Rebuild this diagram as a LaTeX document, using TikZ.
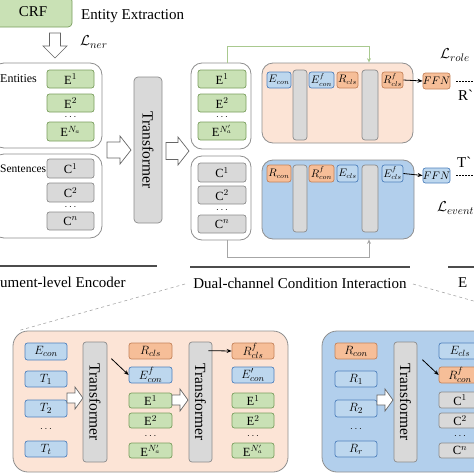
\documentclass[tikz,border=0pt]{standalone}
\usepackage{fontspec}
\setmainfont{Liberation Serif}
\usetikzlibrary{arrows.meta,calc}
\definecolor{grnF}{HTML}{C9E1B5}
\definecolor{grnD}{HTML}{7A9E5E}
\definecolor{gryF}{HTML}{D9D9D9}
\definecolor{gryD}{HTML}{8C8C8C}
\definecolor{bluF}{HTML}{BDD7EE}
\definecolor{bluD}{HTML}{4F81BD}
\definecolor{orgF}{HTML}{F6BE98}
\definecolor{orgD}{HTML}{C5835A}
\definecolor{orgBg}{HTML}{FCE4D6}
\definecolor{bluBg}{HTML}{B2CFEC}
\definecolor{panD}{HTML}{8F8F8F}
\definecolor{gline}{HTML}{A9C98F}
\newcommand\rb[7]{\node[#1,minimum width={(#5-#3)*1pt},minimum height={(#6-#4)*1pt}] (#2) at ({(#3+#5)/2},{(#4+#6)/2}) {#7};}
\newcommand\harr[6]{\draw[hollow] (#1,{#3-#4}) -- ({#2-#6},{#3-#4}) -- ({#2-#6},{#3-#5}) -- (#2,#3) -- ({#2-#6},{#3+#5}) -- ({#2-#6},{#3+#4}) -- (#1,{#3+#4}) -- cycle;}
\newcommand\dotsat[3]{\node[dots,anchor=base] (#1) at ({#2},{#3+2.5}) {$\cdots$};}
\newcommand\fsup{\raisebox{1.2pt}{$\scriptstyle f$}}
\begin{document}
\begin{tikzpicture}[x=1pt,y=-1pt,
  sbox/.style={draw,rounded corners=2.5pt,line width=0.7pt,inner sep=0pt,font=\fontsize{12.5}{14}\selectfont},
  grn/.style={sbox,fill=grnF,draw=grnD},
  gry/.style={sbox,fill=gryF,draw=gryD},
  blu/.style={sbox,fill=bluF,draw=bluD},
  org/.style={sbox,fill=orgF,draw=orgD},
  sm/.style={font=\fontsize{10.5}{12}\selectfont},
  bar/.style={draw=gryD,fill=gryF,rounded corners=3pt,line width=0.7pt,inner sep=0pt},
  panel/.style={draw=panD,rounded corners=11pt,line width=0.8pt,inner sep=0pt,fill=white},
  hollow/.style={draw=gray!80!black,fill=white,line width=0.7pt,line join=miter},
  lbl/.style={font=\fontsize{15}{18}\selectfont,inner sep=0pt},
  dots/.style={font=\fontsize{10}{11}\selectfont,inner sep=0pt},
  rule/.style={draw=black!70,line width=1.3pt},
  blk/.style={-{Stealth[length=5pt,width=4pt]},line width=0.8pt},
  zoomln/.style={draw=gray!70,dashed,line width=0.6pt}
]
\useasboundingbox (0,0) rectangle (474,474);
\clip (0,0) rectangle (474,474);
% ---------- top-left ----------
\rb{grn,rounded corners=4pt,font=\fontsize{15}{18}\selectfont}{crf}{-6}{-3}{72}{27}{CRF}
\node[lbl,anchor=west] (ee) at (81,16) {Entity Extraction};
\node[lbl,anchor=west] (lner) at (80,42) {$\mathcal{L}_{ner}$};
\draw[hollow] (49.5,33) -- (60.5,33) -- (60.5,46) -- (67,46) -- (55,58) -- (43,46) -- (49.5,46) -- cycle;
\rb{panel,rounded corners=12pt}{ent}{-8}{63}{102}{148}{}
\rb{panel,rounded corners=12pt}{sen}{-8}{154}{102}{238}{}
\node[anchor=west,inner sep=0pt,font=\fontsize{12}{14}\selectfont] (entl) at (0,79) {Entities};
\node[anchor=west,inner sep=0pt,font=\fontsize{11.5}{14}\selectfont] (senl) at (0,169) {Sentences};
\rb{grn}{le1}{47}{70}{94}{88}{E$^1$}
\rb{grn}{le2}{47}{94}{94}{112}{E$^2$}
\dotsat{ld1}{70.5}{117}
\rb{grn}{len}{47}{122}{94}{141}{E$^{N_a}$}
\rb{gry}{lc1}{47}{159}{94}{178}{C$^1$}
\rb{gry}{lc2}{47}{183}{94}{202}{C$^2$}
\dotsat{ld2}{70.5}{207}
\rb{gry}{lcn}{47}{212}{94}{230}{C$^n$}
\rb{bar,rounded corners=4pt}{tfa}{134}{77}{162}{223}{}
\node[lbl,rotate=-90,font=\fontsize{15.5}{18}\selectfont] at (tfa.center) {Transformer};
\harr{107}{131}{150}{8}{14}{11}
\harr{166}{189}{151}{8.5}{14}{11}
% ---------- middle ----------
\rb{panel}{mtop}{191}{63}{251}{149}{}
\rb{panel}{mbot}{191}{156}{251}{240}{}
\rb{grn}{me1}{198}{70}{246}{88}{E$^1$}
\rb{grn}{me2}{198}{94}{246}{112}{E$^2$}
\dotsat{md1}{222}{117}
\rb{grn}{men}{198}{122}{246}{140}{E$^{N'_a}$}
\rb{gry}{mc1}{198}{163}{246}{182}{C$^1$}
\rb{gry}{mc2}{198}{186}{246}{204}{C$^2$}
\dotsat{md2}{222}{209.5}
\rb{gry}{mcn}{198}{215}{246}{233}{C$^n$}
% ---------- right panels ----------
\rb{panel,fill=orgBg}{opan}{262}{63}{413}{143}{}
\rb{panel,fill=bluBg}{bpan}{262}{160}{414}{239}{}
\rb{bar}{ob1}{293}{70}{307}{140}{}
\rb{bar}{ob2}{362}{70}{378}{140}{}
\rb{blu,sm}{oecon}{267}{72}{291}{88}{$E_{con}$}
\rb{blu,sm}{oefcon}{309}{72}{334}{88}{$E^{\fsup}_{con}$}
\rb{org,sm}{orcls}{337}{72}{358}{88}{$R_{cls}$}
\rb{org,sm}{orfcls}{382}{72}{403}{88}{$R^{\fsup}_{cls}$}
\rb{org,sm}{offn}{423}{73}{450}{89}{$FFN$}
\rb{bar}{bb1}{293}{165}{307}{232}{}
\rb{bar}{bb2}{362}{165}{378}{232}{}
\rb{org,sm}{brcon}{267}{165}{291}{182}{$R_{con}$}
\rb{org,sm}{brfcon}{309}{165}{334}{182}{$R^{\fsup}_{con}$}
\rb{blu,sm}{becls}{337}{165}{358}{182}{$E_{cls}$}
\rb{blu,sm}{befcls}{382}{165}{403}{182}{$E^{\fsup}_{cls}$}
\rb{blu,sm}{bffn}{423}{168}{450}{183}{$FFN$}
\draw[blk] (orfcls.east) -- (offn.west);
\draw[blk] (befcls.east) -- (bffn.west);
\coordinate (rend) at (480,81);
\coordinate (tend) at (480,175.5);
\draw[dash pattern=on 2pt off 1pt,line width=0.6pt] (offn.east) ++(6,0) -- (rend);
\draw[dash pattern=on 2pt off 1pt,line width=0.6pt] (bffn.east) ++(6,0) -- (tend);
\node[lbl,anchor=west] (lrole) at (440,55) {$\mathcal{L}_{role}$};
\node[lbl,anchor=west] (levt) at (437,208) {$\mathcal{L}_{event}$};
\node[lbl,anchor=west] (rq) at (458,95) {R\textasciigrave};
\node[lbl,anchor=west] (tq) at (457,162) {T\textasciigrave};
\draw[gline,line width=0.8pt,-{Stealth[length=4.5pt,width=4pt]}] ([xshift=6pt]mtop.north) -- ++(0,-16) -| ([xshift=31.5pt]opan.north);
\draw[gray!70,line width=0.8pt,-{Stealth[length=4.5pt,width=4pt]}] ([xshift=6pt]mbot.south) -- ++(0,17) -| ([xshift=31pt]bpan.south);
% ---------- section rules ----------
\draw[rule] (0,266) -- (157,266);
\draw[rule] (190,267) -- (410,267);
\draw[rule] (448,267) -- (474,267);
\node[lbl,anchor=west] (doc) at (0,282) {ument-level Encoder};
\node[lbl] (dual) at (300,283) {Dual-channel Condition Interaction};
\node[lbl,anchor=west] (evl) at (458,283) {E};
% ---------- bottom-left expansion ----------
\rb{panel,fill=orgBg,rounded corners=15pt}{bl}{13}{331}{288}{472}{}
\coordinate (z1) at (185,284);
\coordinate (z2) at (413,284);
\coordinate (z3) at (520,314);
\draw[zoomln] (z1) -- ([xshift=6pt]bl.north west);
\draw[zoomln] (z2) -- (z3);
\rb{blu}{econ}{25}{343}{67}{360}{$E_{con}$}
\rb{blu}{t1}{25}{371}{67}{387}{$T_1$}
\rb{blu}{t2}{25}{400}{67}{417}{$T_2$}
\dotsat{bd1}{46}{429}
\rb{blu}{tt}{25}{441}{67}{457}{$T_t$}
\harr{67}{83}{398}{5}{11}{8}
\rb{bar}{tf1}{83}{342}{107}{462}{}
\node[lbl,rotate=-90,font=\fontsize{15.5}{18}\selectfont] at (tf1.center) {Transformer};
\rb{org}{rcls}{129}{343}{172}{359}{$R_{cls}$}
\rb{blu}{efcon}{129}{367}{172}{383}{$E^{\fsup}_{con}$}
\rb{grn}{be1}{129}{393}{172}{408}{E$^1$}
\rb{grn}{be2}{129}{413}{172}{428}{E$^2$}
\dotsat{bd2}{150.5}{435.5}
\rb{grn}{ben}{129}{443}{172}{458}{E$^{N'_a}$}
\draw[blk] ($(tf1.north east)+(4,17)$) -- (efcon.west);
\harr{172}{188}{400}{5}{11}{8}
\rb{bar}{tf2}{189}{342}{212}{462}{}
\node[lbl,rotate=-90,font=\fontsize{15.5}{18}\selectfont] at (tf2.center) {Transformer};
\rb{org}{rfcls}{232}{343}{274}{359}{$R^{\fsup}_{cls}$}
\rb{blu}{epcon}{232}{367}{274}{383}{$E'_{con}$}
\rb{grn}{ce1}{232}{393}{274}{408}{E$^1$}
\rb{grn}{ce2}{232}{413}{274}{428}{E$^2$}
\dotsat{bd3}{253}{435.5}
\rb{grn}{cen}{232}{443}{274}{458}{E$^{N'_a}$}
\draw[blk] ($(tf2.north east)+(-4,9)$) -- (rfcls.west);
% ---------- bottom-right expansion ----------
\rb{panel,fill=bluBg,rounded corners=15pt}{br}{322}{331}{500}{472}{}
\rb{org}{rcon}{335}{343}{377}{359}{$R_{con}$}
\rb{blu}{r1}{335}{371}{377}{387}{$R_1$}
\rb{blu}{r2}{335}{400}{377}{417}{$R_2$}
\dotsat{bd4}{356}{429}
\rb{blu}{rr}{335}{441}{377}{457}{$R_r$}
\harr{377}{393}{400}{5}{11}{8}
\rb{bar}{tf3}{394}{342}{417}{462}{}
\node[lbl,rotate=-90,font=\fontsize{15.5}{18}\selectfont] at (tf3.center) {Transformer};
\rb{blu}{ecls}{439}{343}{481}{359}{$E_{cls}$}
\rb{org}{rfcon}{439}{367}{481}{383}{$R^{\fsup}_{con}$}
\rb{gry}{rc1}{439}{392}{481}{408}{C$^1$}
\rb{gry}{rc2}{439}{413}{481}{428}{C$^2$}
\dotsat{bd5}{460}{435.5}
\rb{gry}{rcn}{439}{443}{481}{458}{C$^n$}
\draw[blk] ($(tf3.north east)+(5,18)$) -- (rfcon.west);
\end{tikzpicture}
\end{document}
